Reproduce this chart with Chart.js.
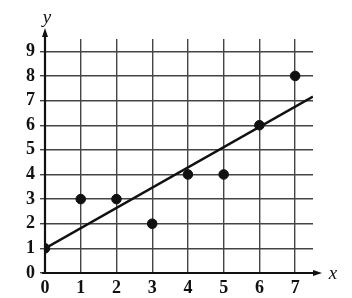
<!DOCTYPE html>
<html>
<head>
<meta charset="utf-8">
<script src="https://cdn.jsdelivr.net/npm/chart.js@4"></script>
<style>
html,body{margin:0;padding:0;background:#fff;}
#wrap{width:352px;height:298px;}
</style>
</head>
<body>
<div id="wrap"><canvas id="c" width="352" height="298"></canvas></div>
<script>
const xValues = [0, 1, 2, 3, 4, 5, 6, 7];
const yValues = [1, 3, 3, 2, 4, 4, 6, 8];
const fitX = [0, 7.5];
const fitY = [1, 7.16];
const xTicks = [0, 1, 2, 3, 4, 5, 6, 7];
const yTicks = [0, 1, 2, 3, 4, 5, 6, 7, 8, 9];
const xAxisName = 'x';
const yAxisName = 'y';

const pts = xValues.map((x, i) => ({x: x, y: yValues[i]}));
const fit = fitX.map((x, i) => ({x: x, y: fitY[i]}));

const axesPlugin = {
  id: 'axesArrows',
  beforeDatasetsDraw(chart) {
    const ctx = chart.ctx;
    const xs = chart.scales.x, ys = chart.scales.y;
    const x0 = xs.getPixelForValue(0), y0 = ys.getPixelForValue(0);
    const top = chart.chartArea.top - 9;
    const right = chart.chartArea.right + 7;
    ctx.save();
    ctx.strokeStyle = '#111';
    ctx.fillStyle = '#111';
    ctx.lineWidth = 2.2;
    ctx.beginPath();
    ctx.moveTo(x0, y0 + 1);
    ctx.lineTo(x0, top + 4);
    ctx.stroke();
    ctx.beginPath();
    ctx.moveTo(x0 - 3, y0);
    ctx.lineTo(right - 4, y0);
    ctx.stroke();
    // arrowheads
    ctx.beginPath();
    ctx.moveTo(x0, top - 2);
    ctx.lineTo(x0 - 3, top + 7);
    ctx.lineTo(x0 + 3, top + 7);
    ctx.closePath();
    ctx.fill();
    ctx.beginPath();
    ctx.moveTo(right + 2, y0);
    ctx.lineTo(right - 7, y0 - 3);
    ctx.lineTo(right - 7, y0 + 3);
    ctx.closePath();
    ctx.fill();
    ctx.font = 'italic 19px "Liberation Serif", serif';
    ctx.textAlign = 'center';
    ctx.textBaseline = 'middle';
    ctx.fillText(yAxisName, x0 + 2, top - 12);
    ctx.fillText(xAxisName, right + 13, y0 + 1);
    ctx.restore();
  }
};

new Chart(document.getElementById('c'), {
  type: 'scatter',
  data: {
    datasets: [
      {
        type: 'line',
        data: fit,
        borderColor: '#111',
        borderWidth: 2.5,
        pointRadius: 0,
        fill: false,
        order: 2
      },
      {
        data: pts,
        backgroundColor: '#111',
        borderColor: '#111',
        pointRadius: 4.8,
        pointHoverRadius: 4.8,
        order: 1
      }
    ]
  },
  options: {
    responsive: false,
    animation: false,
    events: [],
    layout: {padding: {top: 39, right: 39, left: 0, bottom: 0}},
    plugins: {legend: {display: false}, tooltip: {enabled: false}},
    scales: {
      x: {
        type: 'linear',
        min: 0, max: 7.5,
        afterBuildTicks: s => { s.ticks = xTicks.map(v => ({value: v})); },
        afterFit: s => { s.height = 25; },
        border: {display: false},
        grid: {color: '#444', lineWidth: 1.4, drawTicks: false},
        ticks: {
          padding: 5,
          color: '#111',
          font: {family: '"Liberation Serif", serif', size: 18, weight: 'bold'},
          maxRotation: 0
        }
      },
      y: {
        type: 'linear',
        min: 0, max: 9.5,
        afterBuildTicks: s => { s.ticks = yTicks.map(v => ({value: v})); },
        afterFit: s => { s.width = 45; },
        border: {display: false},
        grid: {color: '#444', lineWidth: 1.4, drawTicks: true, tickLength: 5},
        ticks: {
          padding: 5,
          color: '#111',
          font: {family: '"Liberation Serif", serif', size: 18, weight: 'bold'}
        }
      }
    }
  },
  plugins: [axesPlugin]
});
</script>
</body>
</html>
